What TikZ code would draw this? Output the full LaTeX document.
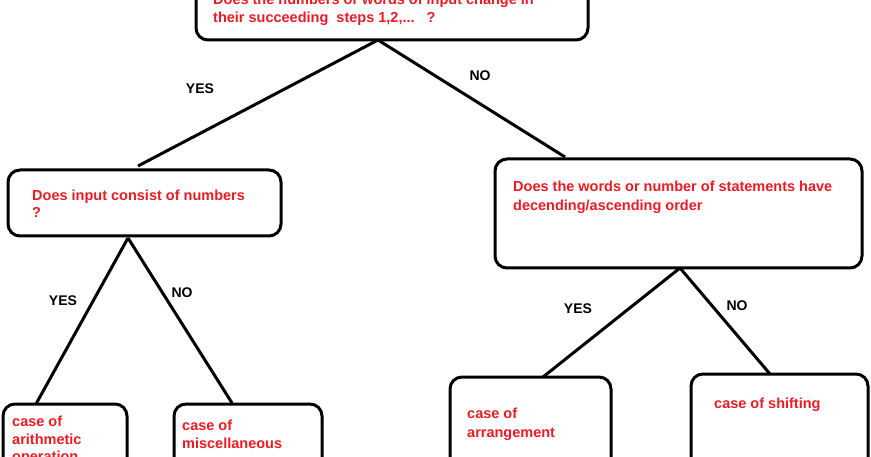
\documentclass[tikz,border=0pt]{standalone}
\usepackage{fontspec}
\setmainfont{Liberation Sans}
\begin{document}
\begin{tikzpicture}[x=1pt,y=-1pt,
  box/.style={draw=black,line width=3pt,rounded corners=12pt},
  red text/.style={anchor=base west,text=qred,font=\bfseries\fontsize{14.5}{16}\selectfont,inner sep=0pt},
  lbl/.style={anchor=center,font=\bfseries\fontsize{14}{16}\selectfont,inner sep=0pt},
  conn/.style={draw=black,line width=3pt}]
\definecolor{qred}{RGB}{232,28,36}
\useasboundingbox (0,0) rectangle (871,457);
\clip (0,0) rectangle (871,457);
\draw[box] (196,-30) rectangle (588,40);
\draw[box] (8,170) rectangle (281,236);
\draw[box] (495,159) rectangle (862,268);
\draw[box] (3,404) rectangle (127,490);
\draw[box] (174,404) rectangle (322,490);
\draw[box] (450,377) rectangle (611,490);
\draw[box] (691,374) rectangle (868,490);
\node[red text] (t1) at (213,5) {Does the numbers or words of input change in};
\node[red text] (t2) at (213,23) {their succeeding\ \ steps 1,2,...\ \ \ ?};
\node[red text] (l1) at (32,201) {Does input consist of numbers};
\node[red text] (l2) at (32,218) {?};
\node[red text] (r1) at (513,192) {Does the words or number of statements have};
\node[red text] (r2) at (513,211) {decending/ascending order};
\node[red text] (a1) at (12,426) {case of};
\node[red text] (a2) at (12,444) {arithmetic};
\node[red text] (a3) at (12,461) {operation};
\node[red text] (m1) at (182,430) {case of};
\node[red text] (m2) at (182,448) {miscellaneous};
\node[red text] (g1) at (467,418) {case of};
\node[red text] (g2) at (467,437) {arrangement};
\node[red text] (s1) at (714,408) {case of shifting};
\coordinate (top) at (378,40);
\coordinate (lt) at (138,166);
\coordinate (rt) at (565,157);
\coordinate (lb) at (128,238);
\coordinate (lb1) at (36,404);
\coordinate (lb2) at (232,403);
\coordinate (rb) at (680,268);
\coordinate (rb1) at (543,377);
\coordinate (rb2) at (770,374);
\draw[conn] (top) -- (lt);
\draw[conn] (top) -- (rt);
\draw[conn] (lb) -- (lb1);
\draw[conn] (lb) -- (lb2);
\draw[conn] (rb) -- (rb1);
\draw[conn] (rb) -- (rb2);
\node[lbl] (y1) at (200,89) {YES};
\node[lbl] (n1) at (480,76) {NO};
\node[lbl] (y2) at (63,301) {YES};
\node[lbl] (n2) at (182,293) {NO};
\node[lbl] (y3) at (578,309) {YES};
\node[lbl] (n3) at (737,306) {NO};
\end{tikzpicture}
\end{document}
